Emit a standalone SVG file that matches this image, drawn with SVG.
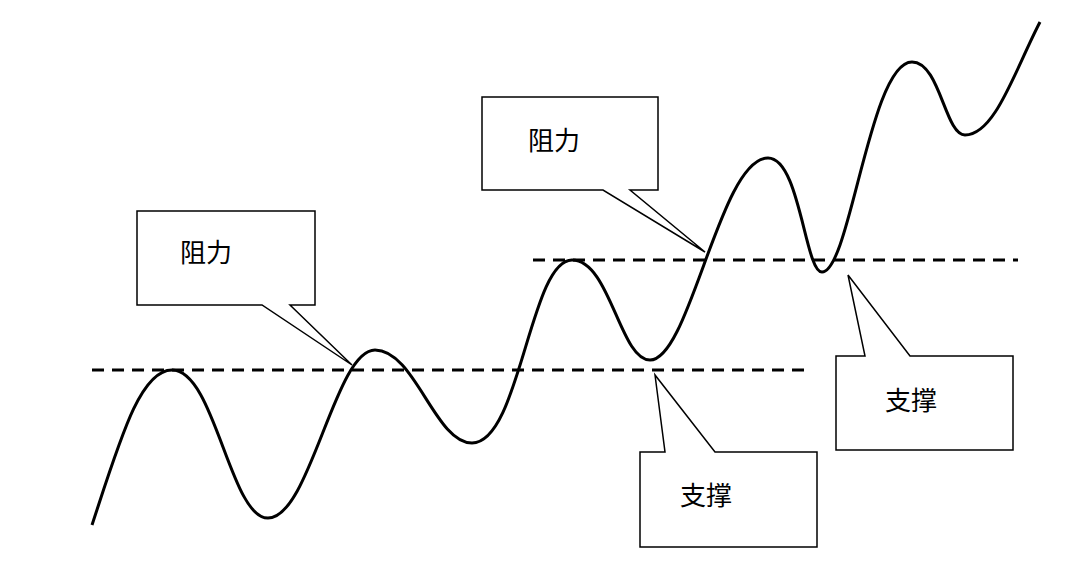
<svg xmlns="http://www.w3.org/2000/svg" width="1080" height="567" viewBox="0 0 1080 567">
<style>
.c{fill:#fff;stroke:#000;stroke-width:1.5}
.t{font-family:"Noto Sans CJK SC","Liberation Sans",sans-serif;font-size:26px;fill:#000}
.d{stroke:#000;stroke-width:3;stroke-dasharray:12,8;fill:none}
</style>
<rect width="1080" height="567" fill="#fff"/>
<g id="connectors">
<line class="d" x1="92" y1="370" x2="808" y2="370"/>
<line class="d" x1="533" y1="260" x2="1018" y2="260"/>
<path d="M92,525 C120,440 140,370 172,370 C215,370 230,518 268,518 C310,518 335,350 375,350 C415,350 435,443 472,443 C520,443 530,260 572,260 C610,260 620,360 650,360 C690,360 720,158 768,158 C800,158 805,272 822,272 C850,272 870,62 912,62 C940,62 945,135 965,135 C995,135 1015,70 1040,22" fill="none" stroke="#000" stroke-width="3"/>
</g>
<g id="n1"><path class="c" d="M137,211 H315 V305 H290 L352,365 L262,305 H137 Z"/><text class="t" x="180" y="262">阻力</text></g>
<g id="n2"><path class="c" d="M482,97 H658 V190 H630 L705,252 L603,190 H482 Z"/><text class="t" x="528" y="150">阻力</text></g>
<g id="n3"><path class="c" d="M640,452 H665 L655,375 L715,452 H817 V547 H640 Z"/><text class="t" x="680" y="505">支撑</text></g>
<g id="n4"><path class="c" d="M836,356 H865 L848,275 L910,356 H1013 V450 H836 Z"/><text class="t" x="885" y="410">支撑</text></g>
</svg>
